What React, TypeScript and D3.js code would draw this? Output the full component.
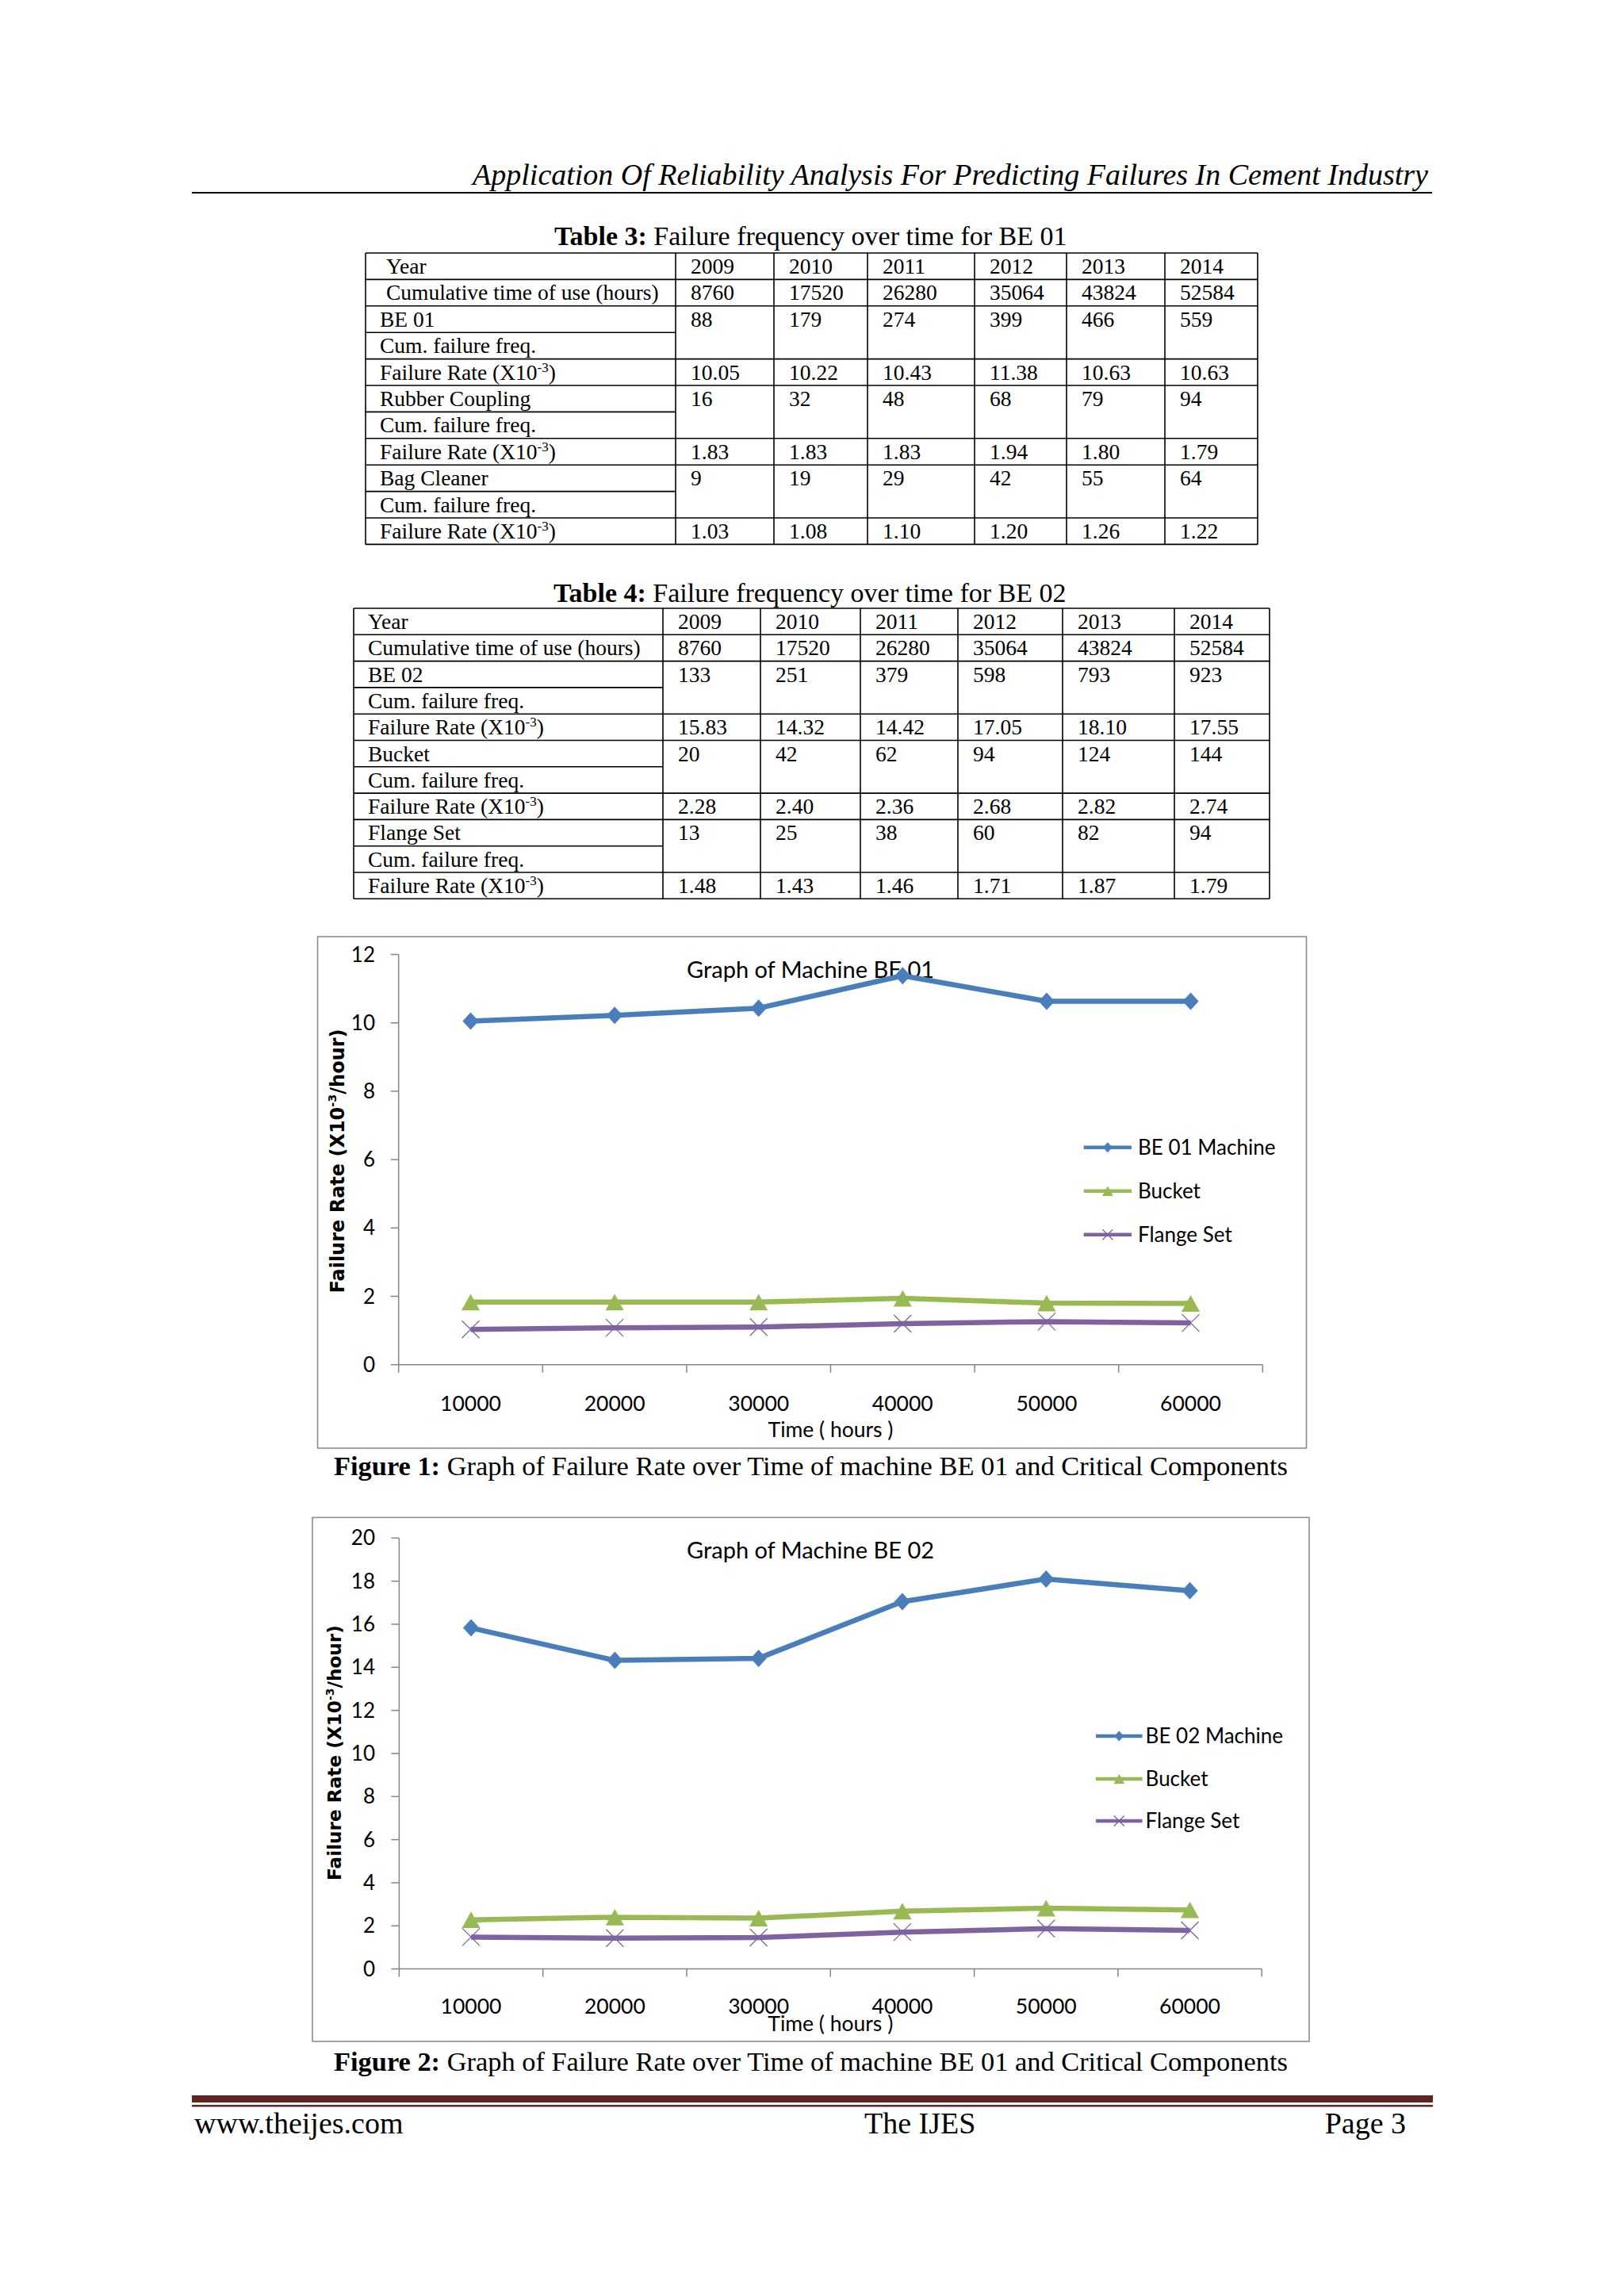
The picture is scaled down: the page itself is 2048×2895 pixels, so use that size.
import React from 'react';
import * as d3 from 'd3';

// ---------- DATA ----------
const years = ['2009', '2010', '2011', '2012', '2013', '2014'];
const cumHours = [8760, 17520, 26280, 35064, 43824, 52584];

// Table 3 (BE 01)
const be01Cum = [88, 179, 274, 399, 466, 559];
const be01Rate = [10.05, 10.22, 10.43, 11.38, 10.63, 10.63];
const rubberCum = [16, 32, 48, 68, 79, 94];
const rubberRate = [1.83, 1.83, 1.83, 1.94, 1.8, 1.79];
const bagCum = [9, 19, 29, 42, 55, 64];
const bagRate = [1.03, 1.08, 1.1, 1.2, 1.26, 1.22];

// Table 4 (BE 02)
const be02Cum = [133, 251, 379, 598, 793, 923];
const be02Rate = [15.83, 14.32, 14.42, 17.05, 18.1, 17.55];
const bucketCum = [20, 42, 62, 94, 124, 144];
const bucketRate = [2.28, 2.4, 2.36, 2.68, 2.82, 2.74];
const flangeCum = [13, 25, 38, 60, 82, 94];
const flangeRate = [1.48, 1.43, 1.46, 1.71, 1.87, 1.79];

// Charts
const xCategories = ['10000', '20000', '30000', '40000', '50000', '60000'];
const chart1Ticks = [0, 2, 4, 6, 8, 10, 12];
const chart2Ticks = [0, 2, 4, 6, 8, 10, 12, 14, 16, 18, 20];
const chart1Legend = ['BE 01 Machine', 'Bucket', 'Flange Set'];
const chart2Legend = ['BE 02 Machine', 'Bucket', 'Flange Set'];

// ---------- STYLE ----------
const SERIF = '"Liberation Serif", "Times New Roman", serif';
const SANS = 'Lato, "Open Sans", sans-serif';
const VERD = '"DejaVu Sans", Verdana, sans-serif';
const COLORS = ['#4a7ebb', '#98b954', '#7f63a1'];
const AXIS = '#868686';
const fmt2 = d3.format('.2f');

// ---------- TABLE ----------
type Group = { label: string; sub?: string; values: string[]; rate?: boolean; indent?: number };

function rateLabel(size: number) {
  return [
    'Failure Rate (X10',
    <tspan key="s" fontSize={size * 0.62} dy={-size * 0.36}>-3</tspan>,
    <tspan key="e" dy={size * 0.36}>)</tspan>,
  ];
}

function DataTable(props: {
  cols: number[];
  top: number;
  rowH: number;
  groups: Group[];
}) {
  const { cols, top, rowH, groups } = props;
  const fs = 27.5;
  const left = cols[0];
  const right = cols[cols.length - 1];
  const els: any[] = [];
  const fullLines: number[] = [top];
  const partLines: number[] = [];
  let r = 0;
  groups.forEach((g, gi) => {
    const y0 = top + r * rowH;
    const ind = g.indent ?? 18;
    els.push(
      <text key={'l' + gi} x={left + ind} y={y0 + 26} fontFamily={SERIF} fontSize={fs}>
        {g.rate ? rateLabel(fs) : g.label}
      </text>
    );
    g.values.forEach((v, i) => {
      els.push(
        <text key={'v' + gi + '_' + i} x={cols[i + 1] + 19} y={y0 + 26} fontFamily={SERIF} fontSize={fs}>
          {v}
        </text>
      );
    });
    if (g.sub) {
      els.push(
        <text key={'s' + gi} x={left + ind} y={y0 + rowH + 26} fontFamily={SERIF} fontSize={fs}>
          {g.sub}
        </text>
      );
      partLines.push(y0 + rowH);
      r += 2;
    } else {
      r += 1;
    }
    fullLines.push(top + r * rowH);
  });
  const bottom = top + r * rowH;
  return (
    <g>
      {fullLines.map((y, i) => (
        <line key={'h' + i} x1={left} x2={right} y1={y} y2={y} stroke="#000" strokeWidth={1.6} />
      ))}
      {partLines.map((y, i) => (
        <line key={'p' + i} x1={left} x2={cols[1]} y1={y} y2={y} stroke="#000" strokeWidth={1.6} />
      ))}
      {cols.map((x, i) => (
        <line key={'c' + i} x1={x} x2={x} y1={top} y2={bottom} stroke="#000" strokeWidth={1.6} />
      ))}
      {els}
    </g>
  );
}

function groupsFor(
  name: string, cum: number[], rate: number[],
  c1: string, c1Cum: number[], c1Rate: number[],
  c2: string, c2Cum: number[], c2Rate: number[],
  headIndent: number
): Group[] {
  return [
    { label: 'Year', values: years, indent: headIndent },
    { label: 'Cumulative time of use (hours)', values: cumHours.map(String), indent: headIndent },
    { label: name, sub: 'Cum. failure freq.', values: cum.map(String) },
    { label: '', rate: true, values: rate.map(fmt2) },
    { label: c1, sub: 'Cum. failure freq.', values: c1Cum.map(String) },
    { label: '', rate: true, values: c1Rate.map(fmt2) },
    { label: c2, sub: 'Cum. failure freq.', values: c2Cum.map(String) },
    { label: '', rate: true, values: c2Rate.map(fmt2) },
  ];
}

// ---------- CHART ----------
type ChartLayout = {
  frame: [number, number, number, number];
  plotL: number; plotR: number; yTopPx: number; y0Px: number;
  yMax: number; ticks: number[];
  title: string; titleY: number; titleX: number;
  xLabelY: number; xTitleY: number;
  legX1: number; legX2: number; legTextX: number; legYs: number[];
  legend: string[];
  yTitleX: number; yTitleY: number; yTitleSize: number;
  series: number[][];
};

function marker(kind: number, size: number, color: string, key: string, x: number, y: number) {
  if (kind === 0) {
    const h = size;
    return (
      <path key={key} d={`M${x},${y - h}L${x + h * 0.92},${y}L${x},${y + h}L${x - h * 0.92},${y}Z`} fill={color} />
    );
  }
  if (kind === 1) {
    const h = size;
    return (
      <path key={key} d={`M${x},${y - h * 0.95}L${x + h * 1.05},${y + h * 0.95}L${x - h * 1.05},${y + h * 0.95}Z`} fill={color} />
    );
  }
  const h = size;
  return (
    <path key={key} d={`M${x - h},${y - h}L${x + h},${y + h}M${x - h},${y + h}L${x + h},${y - h}`} stroke={color} strokeWidth={1.3} fill="none" />
  );
}

function Chart({ L }: { L: ChartLayout }) {
  const x = d3.scaleBand<string>().domain(xCategories).range([L.plotL, L.plotR]).padding(0);
  const y = d3.scaleLinear().domain([0, L.yMax]).range([L.y0Px, L.yTopPx]);
  const cx = (i: number) => (x(xCategories[i]) as number) + x.bandwidth() / 2;
  const line = d3.line<number>().x((_, i) => cx(i)).y((d) => y(d));
  const bounds = xCategories.map((c) => x(c) as number).concat([L.plotR]);
  const [fx, fy, fw, fh] = L.frame;
  return (
    <g>
      <rect x={fx} y={fy} width={fw} height={fh} fill="#fff" stroke="#8c8c8c" strokeWidth={1.6} />
      {/* y axis */}
      <line x1={L.plotL} x2={L.plotL} y1={L.yTopPx} y2={L.y0Px} stroke={AXIS} strokeWidth={1.5} />
      {L.ticks.map((t) => (
        <g key={'yt' + t}>
          <line x1={L.plotL - 10} x2={L.plotL} y1={y(t)} y2={y(t)} stroke={AXIS} strokeWidth={1.5} />
          <text x={473} y={y(t) + 9} textAnchor="end" fontFamily={SANS} fontSize={26} fill="#000">
            {t}
          </text>
        </g>
      ))}
      {/* x axis */}
      <line x1={L.plotL} x2={L.plotR} y1={L.y0Px} y2={L.y0Px} stroke={AXIS} strokeWidth={1.5} />
      {bounds.map((b, i) => (
        <line key={'xt' + i} x1={b} x2={b} y1={L.y0Px} y2={L.y0Px + 10} stroke={AXIS} strokeWidth={1.5} />
      ))}
      {xCategories.map((c, i) => (
        <text key={'xl' + c} x={cx(i)} y={L.xLabelY} textAnchor="middle" fontFamily={SANS} fontSize={26.5} fill="#000">
          {c}
        </text>
      ))}
      <text x={(L.plotL + L.plotR) / 2} y={L.xTitleY} textAnchor="middle" fontFamily={SANS} fontSize={26.5} fill="#000">
        Time ( hours )
      </text>
      <text
        transform={`translate(${L.yTitleX},${L.yTitleY}) rotate(-90)`}
        textAnchor="middle"
        fontFamily={VERD}
        fontWeight="bold"
        fontSize={L.yTitleSize}
        fill="#000"
      >
        Failure Rate (X10
        <tspan fontSize={L.yTitleSize * 0.6} dy={-L.yTitleSize * 0.4}>-3</tspan>
        <tspan dy={L.yTitleSize * 0.4}>/hour)</tspan>
      </text>
      <text x={L.titleX} y={L.titleY} textAnchor="middle" fontFamily={SANS} fontSize={29} fill="#000">
        {L.title}
      </text>
      {/* series */}
      {L.series.map((s, si) => (
        <g key={'s' + si}>
          <path d={line(s) as string} fill="none" stroke={COLORS[si]} strokeWidth={6.5} strokeLinejoin="round" />
          {s.map((v, i) => marker(si, si === 2 ? 11 : 11, COLORS[si], 'm' + si + '_' + i, cx(i), y(v)))}
        </g>
      ))}
      {/* legend */}
      {L.legend.map((name, i) => (
        <g key={'lg' + i}>
          <line x1={L.legX1} x2={L.legX2} y1={L.legYs[i]} y2={L.legYs[i]} stroke={COLORS[i]} strokeWidth={4.5} />
          {marker(i, 6.5, COLORS[i], 'lm' + i, (L.legX1 + L.legX2) / 2, L.legYs[i])}
          <text x={L.legTextX} y={L.legYs[i] + 9} fontFamily={SANS} fontSize={26} fill="#000">
            {name}
          </text>
        </g>
      ))}
    </g>
  );
}

const chart1: ChartLayout = {
  frame: [400.5, 1181, 1247, 645],
  plotL: 502.7, plotR: 1592.3, yTopPx: 1203.5, y0Px: 1720.7,
  yMax: 12, ticks: chart1Ticks,
  title: 'Graph of Machine BE 01', titleY: 1232.7, titleX: 1022,
  xLabelY: 1779, xTitleY: 1812,
  legX1: 1366.7, legX2: 1427, legTextX: 1435, legYs: [1446.7, 1501.7, 1556.7],
  legend: chart1Legend,
  yTitleX: 434, yTitleY: 1464, yTitleSize: 24,
  series: [be01Rate, rubberRate, bagRate],
};

const chart2: ChartLayout = {
  frame: [394, 1913.4, 1257, 660.6],
  plotL: 503.4, plotR: 1591.2, yTopPx: 1939.3, y0Px: 2482.6,
  yMax: 20, ticks: chart2Ticks,
  title: 'Graph of Machine BE 02', titleY: 1964.7, titleX: 1022,
  xLabelY: 2538.5, xTitleY: 2560.5,
  legX1: 1382, legX2: 1440.6, legTextX: 1444.6, legYs: [2189, 2243, 2296],
  legend: chart2Legend,
  yTitleX: 430, yTitleY: 2210, yTitleSize: 23.2,
  series: [be02Rate, bucketRate, flangeRate],
};

export default function App() {
  const t3 = groupsFor('BE 01', be01Cum, be01Rate, 'Rubber Coupling', rubberCum, rubberRate, 'Bag Cleaner', bagCum, bagRate, 26);
  const t4 = groupsFor('BE 02', be02Cum, be02Rate, 'Bucket', bucketCum, bucketRate, 'Flange Set', flangeCum, flangeRate, 18);
  return (
    <svg
      width={2048}
      height={2895}
      style={{ position: 'absolute', left: 0, top: 0, background: '#fff' }}
      xmlns="http://www.w3.org/2000/svg"
    >
      <rect x={0} y={0} width={2048} height={2895} fill="#fff" />
      {/* header */}
      <text x={1801} y={233} textAnchor="end" fontFamily={SERIF} fontStyle="italic" fontSize={38}>
        Application Of Reliability Analysis For Predicting Failures In Cement Industry
      </text>
      <line x1={242} x2={1806} y1={243} y2={243} stroke="#000" strokeWidth={2} />

      {/* Table 3 */}
      <text x={699} y={309} fontFamily={SERIF} fontSize={34}>
        <tspan fontWeight="bold">Table 3:</tspan> Failure frequency over time for BE 01
      </text>
      <DataTable cols={[461, 852, 976, 1094, 1229, 1345, 1469, 1586]} top={319} rowH={33.4} groups={t3} />

      {/* Table 4 */}
      <text x={698} y={759} fontFamily={SERIF} fontSize={34}>
        <tspan fontWeight="bold">Table 4:</tspan> Failure frequency over time for BE 02
      </text>
      <DataTable cols={[446, 836, 959, 1085, 1208, 1340, 1481, 1601]} top={767} rowH={33.3} groups={t4} />

      {/* Figure 1 */}
      <Chart L={chart1} />
      <text x={421} y={1860} fontFamily={SERIF} fontSize={34.4}>
        <tspan fontWeight="bold">Figure 1:</tspan> Graph of Failure Rate over Time of machine BE 01 and Critical Components
      </text>

      {/* Figure 2 */}
      <Chart L={chart2} />
      <text x={421} y={2611} fontFamily={SERIF} fontSize={34.4}>
        <tspan fontWeight="bold">Figure 2:</tspan> Graph of Failure Rate over Time of machine BE 01 and Critical Components
      </text>

      {/* footer */}
      <rect x={242} y={2642} width={1565} height={9} fill="#622423" />
      <rect x={242} y={2654} width={1565} height={2.5} fill="#622423" />
      <text x={245} y={2690} fontFamily={SERIF} fontSize={38}>www.theijes.com</text>
      <text x={1090} y={2690} fontFamily={SERIF} fontSize={38}>The IJES</text>
      <text x={1773} y={2690} textAnchor="end" fontFamily={SERIF} fontSize={38}>Page 3</text>
    </svg>
  );
}
